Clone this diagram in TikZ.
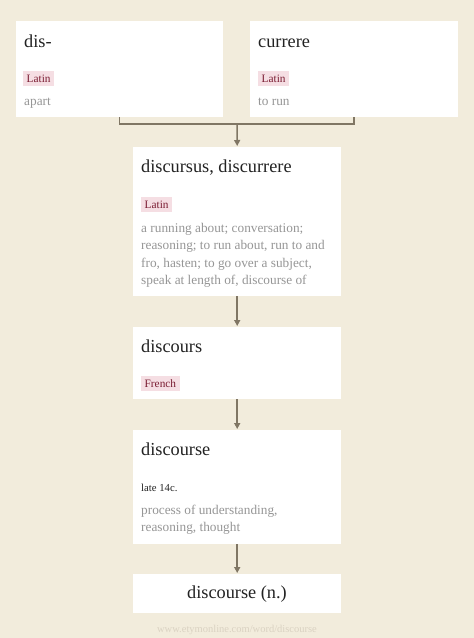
\documentclass[tikz,border=0pt]{standalone}
\usepackage{fontspec}
\setmainfont{Liberation Serif}
\usetikzlibrary{arrows.meta}
\definecolor{paper}{RGB}{242,236,220}
\definecolor{linkc}{RGB}{128,118,100}
\definecolor{tagbg}{RGB}{245,222,227}
\definecolor{tagfg}{RGB}{122,28,50}
\definecolor{glossc}{RGB}{150,150,150}
\definecolor{ink}{RGB}{34,34,34}
\definecolor{footc}{RGB}{218,210,194}

\begin{document}
\begin{tikzpicture}[x=1pt,y=-1pt]
	\tikzstyle{box}=[fill=white,draw=none,anchor=north west,inner sep=0pt,minimum width=208pt]
	\tikzstyle{word}=[anchor=base west,inner sep=0pt,text=ink,font=\fontsize{18.3}{22}\selectfont]
	\tikzstyle{lang}=[anchor=north west,fill=tagbg,text=tagfg,inner xsep=3.5pt,inner ysep=0pt,minimum height=14.5pt,font=\fontsize{11.3}{13}\selectfont]
	\tikzstyle{sense}=[anchor=base west,inner sep=0pt,text=glossc,font=\fontsize{13.3}{17.6}\selectfont]
	\tikzstyle{link}=[draw=linkc,line width=1.5pt]
	\tikzstyle{arrow}=[link,-{Triangle[length=6pt,width=6pt]},shorten >=1pt]
	\fill[paper] (0,0) rectangle (474,638);
	\useasboundingbox (0,0) rectangle (474,638);
	\node[box,minimum width=207pt,minimum height=96pt] (dis) at (16,21) {};
	\node[box,minimum height=96pt] (currere) at (250,21) {};
	\node[box,minimum height=149pt] (discursus) at (133,147) {};
	\node[box,minimum height=72pt] (discours) at (133,327) {};
	\node[box,minimum height=114pt] (discourse) at (133,430) {};
	\node[box,minimum height=39pt] (final) at (133,574) {};
	\node[word] (disw) at (24,47) {dis-};
	\node[lang] (dist) at (23,71) {Latin};
	\node[sense] (disg) at (24,105) {apart};
	\node[word] (currerew) at (258,47) {currere};
	\node[lang] (curreret) at (258,71) {Latin};
	\node[sense] (curreerg) at (258,105) {to run};
	\node[word] (discursusw) at (141,172) {discursus, discurrere};
	\node[lang] (discursust) at (141,197) {Latin};
	\node[sense] (discursusg) at (141,232) {\parbox[t]{195pt}{a running about; conversation;\\
		reasoning; to run about, run to and\\
		fro, hasten; to go over a subject,\\
		speak at length of, discourse of}};
	\node[word] (discoursw) at (141,352) {discours};
	\node[lang] (discourst) at (141,376) {French};
	\node[word] (discoursew) at (141,455) {discourse};
	\node[anchor=base west,inner sep=0pt,text=ink,font=\fontsize{10.7}{13}\selectfont] (discoursed) at (141,491) {late 14c.};
	\node[sense] (discourseg) at (141,514) {\parbox[t]{195pt}{process of understanding,\\
		reasoning, thought}};
	\node[anchor=base,inner sep=0pt,text=ink,font=\fontsize{18.3}{22}\selectfont] (finalw) at (237,598) {discourse (n.)};
	\node[anchor=base,inner sep=0pt,text=footc,font=\fontsize{10.5}{12}\selectfont] (foot) at (237,632) {www.etymonline.com/word/discourse};
	\coordinate (fork) at (237,124);
	\draw[link] (dis.south) |- (fork) -| (currere.south);
	\draw[arrow] (fork) -- (discursus.north);
	\draw[arrow] (discursus.south) -- (discours.north);
	\draw[arrow] (discours.south) -- (discourse.north);
	\draw[arrow] (discourse.south) -- (final.north);
\end{tikzpicture}
\end{document}
